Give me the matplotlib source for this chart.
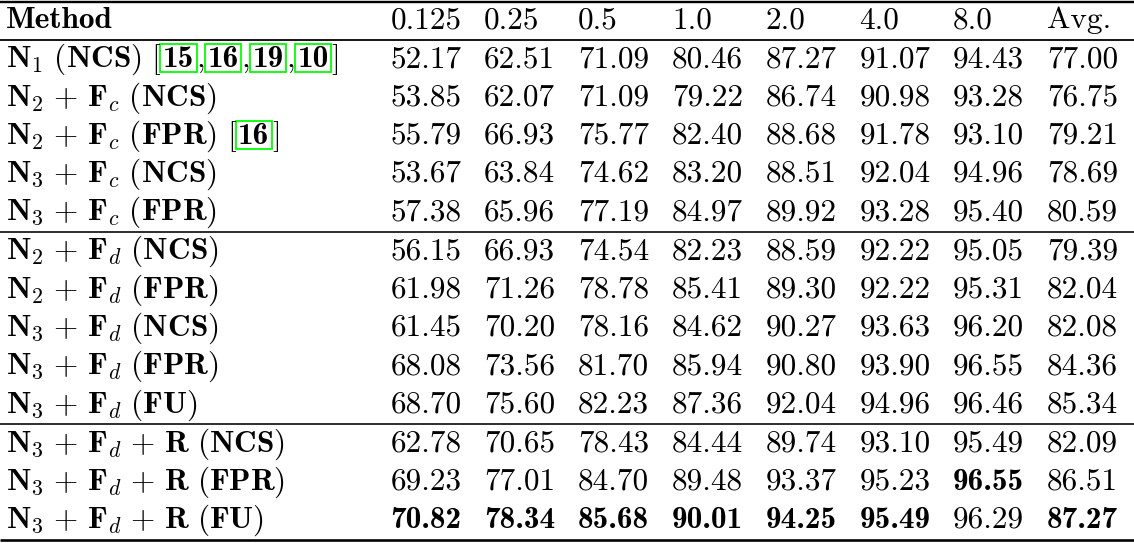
import matplotlib
matplotlib.use("Agg")
import matplotlib.pyplot as plt
from matplotlib.patches import Rectangle

# Données du tableau
columns = ["0.125", "0.25", "0.5", "1.0", "2.0", "4.0", "8.0", "Avg."]

methods = [
    r"$\mathbf{N}_1\ \mathbf{(NCS)}$",
    r"$\mathbf{N}_2\ {+}\ \mathbf{F}_c\ \mathbf{(NCS)}$",
    r"$\mathbf{N}_2\ {+}\ \mathbf{F}_c\ \mathbf{(FPR)}$",
    r"$\mathbf{N}_3\ {+}\ \mathbf{F}_c\ \mathbf{(NCS)}$",
    r"$\mathbf{N}_3\ {+}\ \mathbf{F}_c\ \mathbf{(FPR)}$",
    r"$\mathbf{N}_2\ {+}\ \mathbf{F}_d\ \mathbf{(NCS)}$",
    r"$\mathbf{N}_2\ {+}\ \mathbf{F}_d\ \mathbf{(FPR)}$",
    r"$\mathbf{N}_3\ {+}\ \mathbf{F}_d\ \mathbf{(NCS)}$",
    r"$\mathbf{N}_3\ {+}\ \mathbf{F}_d\ \mathbf{(FPR)}$",
    r"$\mathbf{N}_3\ {+}\ \mathbf{F}_d\ \mathbf{(FU)}$",
    r"$\mathbf{N}_3\ {+}\ \mathbf{F}_d\ {+}\ \mathbf{R}\ \mathbf{(NCS)}$",
    r"$\mathbf{N}_3\ {+}\ \mathbf{F}_d\ {+}\ \mathbf{R}\ \mathbf{(FPR)}$",
    r"$\mathbf{N}_3\ {+}\ \mathbf{F}_d\ {+}\ \mathbf{R}\ \mathbf{(FU)}$",
]

citations = [[15, 16, 19, 10], [], [16], [], [], [], [], [], [], [], [], [], []]

values = [
    [52.17, 62.51, 71.09, 80.46, 87.27, 91.07, 94.43, 77.00],
    [53.85, 62.07, 71.09, 79.22, 86.74, 90.98, 93.28, 76.75],
    [55.79, 66.93, 75.77, 82.40, 88.68, 91.78, 93.10, 79.21],
    [53.67, 63.84, 74.62, 83.20, 88.51, 92.04, 94.96, 78.69],
    [57.38, 65.96, 77.19, 84.97, 89.92, 93.28, 95.40, 80.59],
    [56.15, 66.93, 74.54, 82.23, 88.59, 92.22, 95.05, 79.39],
    [61.98, 71.26, 78.78, 85.41, 89.30, 92.22, 95.31, 82.04],
    [61.45, 70.20, 78.16, 84.62, 90.27, 93.63, 96.20, 82.08],
    [68.08, 73.56, 81.70, 85.94, 90.80, 93.90, 96.55, 84.36],
    [68.70, 75.60, 82.23, 87.36, 92.04, 94.96, 96.46, 85.34],
    [62.78, 70.65, 78.43, 84.44, 89.74, 93.10, 95.49, 82.09],
    [69.23, 77.01, 84.70, 89.48, 93.37, 95.23, 96.55, 86.51],
    [70.82, 78.34, 85.68, 90.01, 94.25, 95.49, 96.29, 87.27],
]

# cellules en gras (ligne, colonne)
bold_cells = [(11, 6), (12, 0), (12, 1), (12, 2), (12, 3), (12, 4), (12, 5), (12, 7)]

groups = [5, 5, 3]

# Mise en page (pixels)
W, H = 1134, 543
FS = 22.5
x_method = 6
col_x0, col_step = 426, 93.8
y_header = 28.5
y_first = 67
pitch = 38.3
rule_above, rule_below = 12, 27

plt.rcParams["mathtext.fontset"] = "cm"
plt.rcParams["font.family"] = "cmr10"
plt.rcParams["axes.formatter.use_mathtext"] = True

fig = plt.figure(figsize=(W / 100, H / 100), dpi=100)
ax = fig.add_axes([0, 0, 1, 1])
ax.set_xlim(0, W)
ax.set_ylim(H, 0)
ax.axis("off")
renderer = fig.canvas.get_renderer()


def extent(t):
    return t.get_window_extent(renderer)


def hrule(y, lw_px):
    ax.plot([0, W], [y, y], color="black", lw=lw_px * 0.72, solid_capstyle="butt")


# baselines des lignes + filets
baselines = []
mid_rules = []
y = y_first
for gi, n in enumerate(groups):
    for k in range(n):
        baselines.append(y)
        if k < n - 1:
            y += pitch
    if gi < len(groups) - 1:
        mid_rules.append(y + rule_above)
        y += rule_above + rule_below
bottom_rule = baselines[-1] + rule_above

hrule(1.5, 2.4)
hrule(40, 1.8)
for yr in mid_rules:
    hrule(yr, 1.6)
hrule(bottom_rule, 2.6)

# En-tête
ax.text(x_method, y_header, "Method", fontfamily="cmb10", fontsize=FS, va="baseline", ha="left")

# Valeurs
first_left = []
for i, row in enumerate(values):
    for j, v in enumerate(row):
        bold = (i, j) in bold_cells
        t = ax.text(col_x0 + j * col_step, baselines[i], f"{v:.2f}",
                    fontfamily="cmb10" if bold else "cmr10", fontsize=FS,
                    va="baseline", ha="center")
        if i == 0:
            first_left.append(extent(t).x0)

for j, c in enumerate(columns):
    ax.text(first_left[j], y_header, c, fontsize=FS, va="baseline", ha="left")

# Méthodes + citations encadrées
for i, m in enumerate(methods):
    t = ax.text(x_method, baselines[i], m, fontsize=FS, va="baseline", ha="left")
    if not citations[i]:
        continue
    x = extent(t).x1 + 10
    t = ax.text(x, baselines[i], "[", fontsize=FS, va="baseline", ha="left")
    x = extent(t).x1
    for k, ref in enumerate(citations[i]):
        t = ax.text(x + 2.5, baselines[i], str(ref), fontfamily="cmb10", fontsize=FS,
                    va="baseline", ha="left")
        bb = extent(t)
        ax.add_patch(Rectangle((bb.x0 - 2.5, baselines[i] - 23), bb.width + 5, 28,
                               fill=False, ec="#00ff00", lw=1.8 * 0.72))
        x = bb.x1 + 2.5
        sep = "," if k < len(citations[i]) - 1 else "]"
        t = ax.text(x, baselines[i], sep, fontsize=FS, va="baseline", ha="left")
        x = extent(t).x1

fig.savefig("out.png", dpi=100)
